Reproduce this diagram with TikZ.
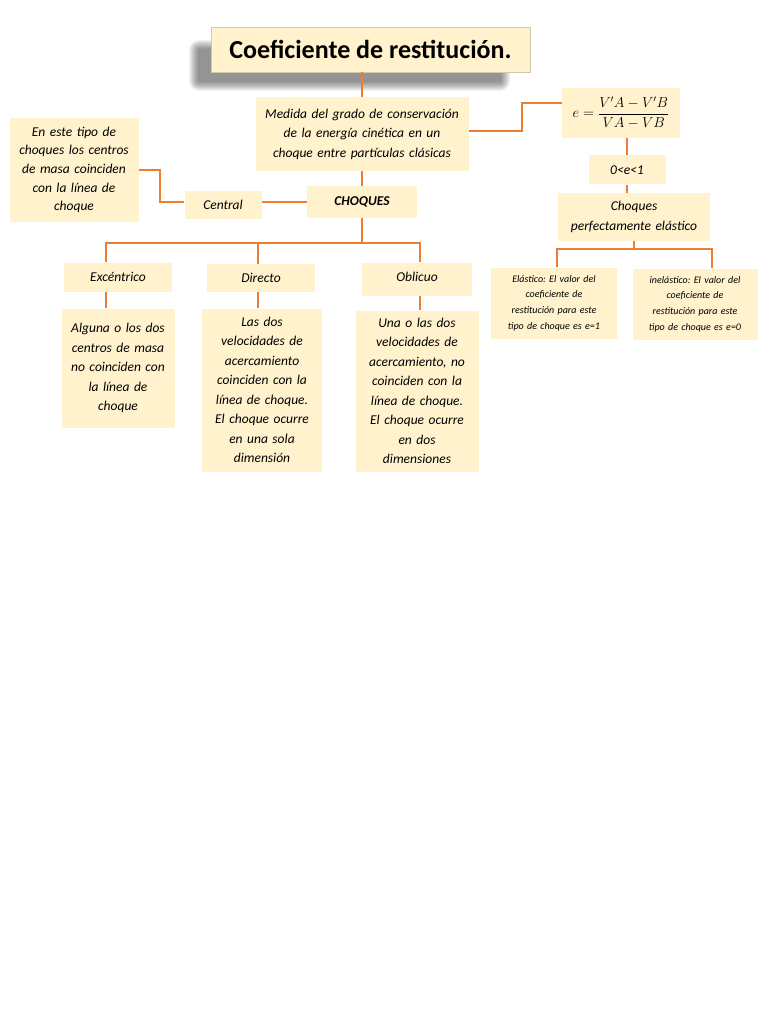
\documentclass[tikz,border=0pt]{standalone}
\usepackage{amsmath}
\usepackage{fontspec}
\setmainfont{Carlito}
\definecolor{notefill}{HTML}{FFF2CC}
\definecolor{linkorange}{HTML}{ED7D31}
\definecolor{framegray}{HTML}{D0C8B0}

\begin{document}
\frenchspacing
\begin{tikzpicture}[x=1pt, y=-1pt]
    % Define styles
    \tikzstyle{concept} = [rectangle, fill=notefill, inner xsep=3pt, inner ysep=2pt, text centered, font=\fontsize{13.5}{19.5}\selectfont\itshape]
    \tikzstyle{small} = [concept, font=\fontsize{10}{15.7}\selectfont\itshape]
    \tikzstyle{heading} = [rectangle, fill=notefill, draw=framegray, minimum width=319pt, minimum height=45pt, font=\fontsize{26}{30}\selectfont\bfseries]
    \tikzstyle{link} = [draw=linkorange, line width=1.8pt]

    % Page
    \fill[white] (0,0) rectangle (768,1024);
    \useasboundingbox (0,0) rectangle (768,1024);

    % Soft shadow of the title
    \foreach \r in {1,...,10}
        \fill[black, opacity=0.05, rounded corners=\r pt] (199-\r,50-\r) rectangle (500+\r,81+\r);

    % Title and definition
    \node[heading] (title) at (370.5,49.5) {Coeficiente de restitución.};
    \node[concept, text width=207pt, minimum height=74pt] (measure) at (362,134) {Medida del grado de conservación\\ de la energía cinética en un\\ choque entre partículas clásicas};

    % Coefficient branch
    \node[concept, minimum width=118pt, minimum height=50pt, font=\fontsize{14}{16}\selectfont] (formula) at (621,113) {$e=\dfrac{V'A-V'B}{VA-VB}$};
    \node[concept, minimum width=77pt, minimum height=29pt] (ratio) at (627,170) {0<e<1};
    \node[concept, text width=146pt, minimum height=47pt] (perfect) at (634,217) {Choques\\ perfectamente elástico};
    \node[small, text width=120pt, minimum height=71pt] (elastic) at (554,303) {Elástico: El valor del\\ coeficiente de\\ restitución para este\\ tipo de choque es e=1};
    \node[small, text width=119pt, minimum height=71pt] (inelastic) at (695,304) {inelástico: El valor del\\ coeficiente de\\ restitución para este\\ tipo de choque es e=0};

    % Kinds of collision
    \node[concept, text width=123pt, minimum height=104pt, font=\fontsize{13.5}{18.7}\selectfont\itshape] (central_desc) at (74,170) {En este tipo de\\ choques los centros\\ de masa coinciden\\ con la línea de\\ choque};
    \node[concept, minimum width=77pt, minimum height=28pt] (central) at (223,205) {Central};
    \node[concept, minimum width=110pt, minimum height=32pt, font=\fontsize{13.5}{16}\selectfont\bfseries\itshape] (choques) at (362,202) {CHOQUES};
    \node[concept, minimum width=108pt, minimum height=29pt] (excentric) at (118,277) {Excéntrico};
    \node[concept, minimum width=108pt, minimum height=28pt] (direct) at (261,278) {Directo};
    \node[concept, minimum width=110pt, minimum height=33pt, text depth=5pt] (oblique) at (417,279) {Oblicuo};
    \node[concept, text width=107pt, minimum height=119pt] (excentric_desc) at (118,368) {Alguna o los dos\\ centros de masa\\ no coinciden con\\ la línea de\\ choque};
    \node[concept, text width=114pt, minimum height=163pt] (direct_desc) at (262,390) {Las dos\\ velocidades de\\ acercamiento\\ coinciden con la\\ línea de choque.\\ El choque ocurre\\ en una sola\\ dimensión};
    \node[concept, text width=117pt, minimum height=161pt] (oblique_desc) at (417,391) {Una o las dos\\ velocidades de\\ acercamiento, no\\ coinciden con la\\ línea de choque.\\ El choque ocurre\\ en dos\\ dimensiones};

    % Connectors
    \coordinate (bus) at (362,243);
    \draw[link] (measure.north |- title.south) -- (measure.north);
    \draw[link] ([yshift=3pt]measure.east) -- ++(53,0) |- ([yshift=10pt]formula.west);
    \draw[link] (ratio.north |- formula.south) -- (ratio.north);
    \draw[link] (ratio.south) -- (ratio.south |- perfect.north);
    \draw[link] (perfect.south) -- ++(0,8);
    \draw[link] ([xshift=3pt]elastic.north) |- ([yshift=-8pt]perfect.south) -| ([xshift=17pt]inelastic.north);
    \draw[link] (measure.south) -- (choques.north);
    \draw[link] (choques.west) -- (choques.west -| central.east);
    \draw[link] (central.west |- choques.west) -- ++(-24,0) |- (central_desc.east);
    \draw[link] (choques.south) -- (bus);
    \draw[link] ([xshift=-12pt]excentric.north) |- (bus) -| ([xshift=3pt]oblique.north);
    \draw[link] ([xshift=-3pt]direct.north) -- ([xshift=-3pt]direct.north |- bus);
    \draw[link] ([xshift=-12pt]excentric.south) -- ([xshift=-12pt]excentric.south |- excentric_desc.north);
    \draw[link] ([xshift=-3pt]direct.south) -- ([xshift=-3pt]direct.south |- direct_desc.north);
    \draw[link] ([xshift=3pt]oblique.south) -- ([xshift=3pt]oblique.south |- oblique_desc.north);
\end{tikzpicture}
\end{document}
